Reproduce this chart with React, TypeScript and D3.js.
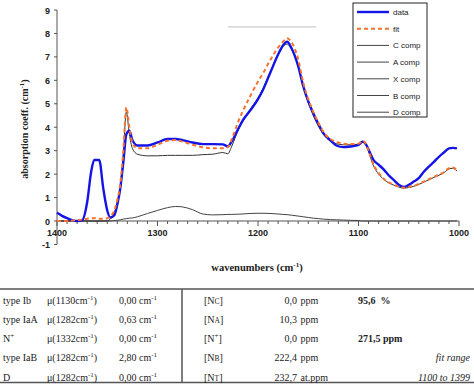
import * as d3 from 'd3';

// wavenumber grid (cm-1) shared by all series
const wavenumbers = [
  1400, 1395, 1390, 1385, 1380, 1375, 1370, 1366, 1363, 1358, 1354, 1350, 1347, 1343, 1340, 1337,
  1334, 1331, 1328, 1325, 1320, 1310, 1300, 1290, 1282, 1275, 1265, 1255, 1245, 1235, 1230, 1226,
  1220, 1215, 1208, 1200, 1195, 1188, 1180, 1175, 1171, 1167, 1160, 1155, 1150, 1145, 1140, 1135,
  1128, 1122, 1115, 1108, 1100, 1096, 1093, 1090, 1085, 1080, 1075, 1070, 1065, 1060, 1055, 1050,
  1045, 1040, 1035, 1030, 1025, 1020, 1015, 1010, 1006, 1002,
];

const dataAbs = [
  0.35, 0.22, 0.12, 0.04, 0.0, 0.03, 0.8, 2.1, 2.6, 2.6, 1.4, 0.45, 0.15, 0.25, 0.7, 1.4,
  2.5, 3.7, 3.85, 3.45, 3.22, 3.22, 3.35, 3.5, 3.5, 3.45, 3.35, 3.28, 3.28, 3.27, 3.18, 3.4,
  3.9, 4.3, 4.7, 5.2, 5.6, 6.3, 7.1, 7.5, 7.65, 7.4, 6.6, 5.75, 5.1, 4.6, 4.15, 3.75,
  3.45, 3.22, 3.15, 3.18, 3.25, 3.38, 3.3, 3.05, 2.6, 2.4, 2.2, 1.95, 1.75, 1.55, 1.45, 1.54,
  1.68, 1.83, 2.1, 2.32, 2.52, 2.74, 2.92, 3.1, 3.12, 3.1,
];

const fitAbs = [
  0.0, 0.0, 0.0, 0.02, 0.04, 0.06, 0.1, 0.12, 0.12, 0.1, 0.1, 0.12, 0.2, 0.45, 0.9, 1.6,
  3.0, 4.85, 4.0, 3.35, 3.1, 3.1, 3.25, 3.42, 3.45, 3.38, 3.25, 3.15, 3.1, 3.1, 3.15, 3.5,
  4.2, 4.7, 5.3, 5.95, 6.3, 6.85, 7.4, 7.65, 7.8, 7.65, 6.9, 5.9, 5.2, 4.65, 4.2, 3.8,
  3.5, 3.38, 3.3, 3.28, 3.3, 3.42, 3.32, 3.0, 2.4, 2.05, 1.8, 1.65, 1.55, 1.47, 1.42, 1.45,
  1.5, 1.58, 1.68, 1.78, 1.88, 1.97, 2.08, 2.25, 2.28, 2.15,
];

const bComp = [
  0, 0, 0, 0, 0, 0, 0, 0, 0, 0, 0, 0.01, 0.08, 0.35, 0.8, 1.5,
  2.9, 4.65, 3.7, 3.1, 2.85, 2.78, 2.78, 2.8, 2.8, 2.8, 2.8, 2.83, 2.85, 2.92, 2.87, 3.2,
  3.85, 4.25, 4.75, 5.25, 5.65, 6.35, 7.1, 7.45, 7.55, 7.35, 6.6, 5.75, 5.05, 4.5, 4.05, 3.7,
  3.4, 3.3, 3.25, 3.25, 3.28, 3.4, 3.28, 2.95, 2.35, 2.0, 1.78, 1.63, 1.53, 1.45, 1.4, 1.43,
  1.48, 1.56, 1.66, 1.76, 1.86, 1.95, 2.06, 2.22, 2.25, 2.13,
];

const aComp = [
  0, 0, 0, 0, 0, 0, 0, 0, 0, 0, 0, 0, 0, 0.02, 0.03, 0.05,
  0.08, 0.1, 0.12, 0.13, 0.18, 0.32, 0.45, 0.57, 0.62, 0.6, 0.48, 0.3, 0.26, 0.27, 0.28, 0.28,
  0.29, 0.3, 0.32, 0.33, 0.33, 0.32, 0.3, 0.28, 0.27, 0.25, 0.21, 0.18, 0.15, 0.12, 0.1, 0.08,
  0.06, 0.05, 0.04, 0.03, 0.02, 0, 0, 0, 0, 0, 0, 0, 0, 0, 0, 0,
  0, 0, 0, 0, 0, 0, 0, 0, 0, 0,
];

const legendItems = ['data', 'fit', 'C comp', 'A comp', 'X comp', 'B comp', 'D comp'];
const yTicks = [-1, 0, 1, 2, 3, 4, 5, 6, 7, 8, 9];
const xMajorTicks = [1400, 1300, 1200, 1100, 1000];
// light grey marker bar drawn above the main peak
const markerBar = { from: 1230, to: 1142, level: 8.28 };

// result table
const tableTypes = ['type Ib', 'type IaA', 'N', 'type IaB', 'D'];
const tableWave = ['1130', '1282', '1332', '1282', '1282'];
const tableCoef = ['0,00', '0,63', '0,00', '2,80', '0,00'];
const tableConc = ['C', 'A', '+', 'B', 'T'];
const tableConcVal = ['0,0', '10,3', '0,0', '222,4', '232,7'];
const tableUnits = ['ppm', 'ppm', 'ppm', 'ppm', 'at.ppm'];

const W = 474, H = 387;

export default function App() {
  const x = d3.scaleLinear().domain([1400, 1000]).range([57, 459]);
  const y = d3.scaleLinear().domain([0, 9]).range([221, 10]);
  const line = (vals: number[]) =>
    d3.line<number>().x((_, i) => x(wavenumbers[i])).y(d => y(d)).curve(d3.curveMonotoneX)(vals) || '';
  const minor = d3.range(1000, 1401, 10);

  const serif = '"Liberation Serif", "Times New Roman", serif';
  const sans = '"Liberation Sans", Arial, sans-serif';
  const rowY = (i: number) => 303.5 + i * 19.3;

  return (
    <svg width={W} height={H} viewBox={`0 0 ${W} ${H}`}
      style={{ position: 'absolute', left: 0, top: 0, background: '#fff' }}>
      {/* axes */}
      <line x1={x(1400)} x2={x(1000)} y1={y(0)} y2={y(0)} stroke="#555" strokeWidth={1} />
      <line x1={x(1400)} x2={x(1400)} y1={y(9)} y2={y(-1)} stroke="#555" strokeWidth={1} />
      {yTicks.map(t => (
        <g key={t}>
          <line x1={x(1400) - 3} x2={x(1400)} y1={y(t)} y2={y(t)} stroke="#555" />
          <text x={x(1400) - 7} y={y(t) + 3.5} textAnchor="end" fontFamily={sans} fontWeight="bold"
            fontSize={9} fill="#222">{t}</text>
        </g>
      ))}
      {minor.map(t => (
        <line key={t} x1={x(t)} x2={x(t)} y1={y(0)} y2={y(0) + (t % 100 === 0 ? 5 : 3)} stroke="#555" />
      ))}
      {xMajorTicks.map(t => (
        <text key={t} x={x(t)} y={y(0) + 15} textAnchor="middle" fontFamily={sans} fontWeight="bold"
          fontSize={9} fill="#222">{t}</text>
      ))}

      {/* marker bar */}
      <line x1={x(markerBar.from)} x2={x(markerBar.to)} y1={y(markerBar.level)} y2={y(markerBar.level)}
        stroke="#ccc" strokeWidth={1.2} />

      {/* series */}
      <path d={line(aComp)} fill="none" stroke="#444" strokeWidth={1} />
      <path d={line(bComp)} fill="none" stroke="#333" strokeWidth={1} />
      <path d={line(dataAbs)} fill="none" stroke="#1414e6" strokeWidth={2.4} />
      <path d={line(fitAbs)} fill="none" stroke="#f5732d" strokeWidth={2} strokeDasharray="4,3" />

      {/* legend */}
      <rect x={353} y={3} width={74} height={114} fill="#fff" stroke="#222" strokeWidth={1} />
      {legendItems.map((name, i) => {
        const ly = 12 + i * 16.7;
        return (
          <g key={name}>
            <line x1={357} x2={389} y1={ly} y2={ly}
              stroke={i === 0 ? '#1414e6' : i === 1 ? '#f5732d' : '#444'}
              strokeWidth={i === 0 ? 2.4 : i === 1 ? 2 : 1}
              strokeDasharray={i === 1 ? '4,3' : undefined} />
            <text x={393} y={ly + 3} fontFamily={sans} fontSize={8} fill="#222">{name}</text>
          </g>
        );
      })}

      {/* axis titles */}
      <text transform="translate(28,129) rotate(-90)" textAnchor="middle" fontFamily={serif}
        fontWeight="bold" fontSize={10} fill="#222">
        absorption coeff. (cm<tspan dy={-4} fontSize={7}>-1</tspan><tspan dy={4}>)</tspan>
      </text>
      <text x={257} y={271} textAnchor="middle" fontFamily={serif} fontWeight="bold" fontSize={10.5} fill="#222">
        wavenumbers (cm<tspan dy={-4} fontSize={7}>-1</tspan><tspan dy={4}>)</tspan>
      </text>

      {/* table */}
      <line x1={0} x2={W} y1={289} y2={289} stroke="#555" strokeWidth={1.5} />
      <line x1={0} x2={W} y1={382.5} y2={382.5} stroke="#555" strokeWidth={1.5} />
      <line x1={182} x2={182} y1={289} y2={382.5} stroke="#555" strokeWidth={1.5} />
      <g fontFamily={serif} fontSize={10} fill="#222">
        {tableTypes.map((t, i) => (
          <g key={i}>
            <text x={3} y={rowY(i)}>
              {t}{t === 'N' ? <tspan dy={-4} fontSize={7}>+</tspan> : null}
            </text>
            <text x={47} y={rowY(i)}>
              μ({tableWave[i]}cm<tspan dy={-4} fontSize={7}>-1</tspan><tspan dy={4}>)</tspan>
            </text>
            <text x={119} y={rowY(i)}>
              {tableCoef[i]}  cm<tspan dy={-4} fontSize={7}>-1</tspan>
            </text>
            <text x={204} y={rowY(i)}>
              [N{tableConc[i] === '+'
                ? <><tspan dy={-4} fontSize={7}>+</tspan><tspan dy={4}>]</tspan></>
                : <><tspan fontSize={7.5}>{tableConc[i]}</tspan>]</>}
            </text>
            <text x={297} y={rowY(i)} textAnchor="end">{tableConcVal[i]}</text>
            <text x={300.5} y={rowY(i)}>{tableUnits[i]}</text>
          </g>
        ))}
        <text x={358} y={rowY(0)} fontWeight="bold" xmlSpace="preserve">95,6  %</text>
        <text x={358} y={rowY(2)} fontWeight="bold">271,5 ppm</text>
        <text x={470} y={rowY(3)} textAnchor="end" fontStyle="italic">fit range</text>
        <text x={470} y={rowY(4)} textAnchor="end" fontStyle="italic">1100 to 1399</text>
      </g>
    </svg>
  );
}
